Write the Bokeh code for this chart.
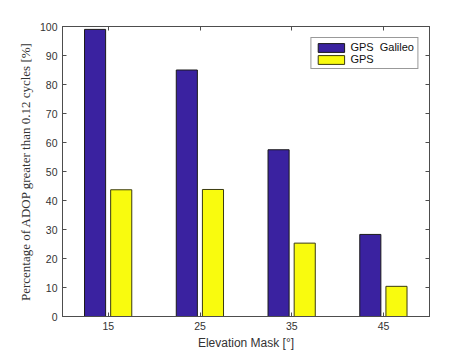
from bokeh.plotting import figure
from bokeh.models import ColumnDataSource, FixedTicker, LinearAxis, Range1d, Legend, LegendItem, CustomJSTickFormatter
from bokeh.transform import dodge
from bokeh.embed import file_html
from bokeh.resources import INLINE

categories = ["15", "25", "35", "45"]
gps_galileo = [99.0, 85.0, 57.5, 28.3]
gps = [43.7, 43.8, 25.3, 10.4]
y_ticks = [0, 10, 20, 30, 40, 50, 60, 70, 80, 90, 100]

xpos = list(range(1, len(categories) + 1))
src = ColumnDataSource(dict(x=xpos, a=gps_galileo, b=gps))

p = figure(frame_width=367, frame_height=290, output_backend="svg", toolbar_location=None,
           x_range=Range1d(0.5, 4.5), y_range=Range1d(0, 100),
           min_border_left=62, min_border_right=36, min_border_top=26, min_border_bottom=31)

blue = "#3a22a0"
yellow = "#f9fb0e"
r1 = p.vbar(x=dodge("x", -0.145, range=p.x_range), top="a", width=0.23, source=src,
            fill_color=blue, line_color="#1a1a1a", line_width=1)
r2 = p.vbar(x=dodge("x", 0.14, range=p.x_range), top="b", width=0.23, source=src,
            fill_color=yellow, line_color="#3a3a10", line_width=1)

p.xgrid.visible = False
p.ygrid.visible = False
p.outline_line_color = "#4d4d4d"
p.background_fill_color = "white"
p.border_fill_color = "white"

p.xaxis.ticker = FixedTicker(ticks=xpos)
p.xaxis.major_label_overrides = {i: c for i, c in zip(xpos, categories)}
p.yaxis.ticker = FixedTicker(ticks=y_ticks)

for ax in [p.xaxis[0], p.yaxis[0]]:
    ax.major_tick_in = 4
    ax.major_tick_out = 0
    ax.minor_tick_line_color = None
    ax.axis_line_color = "#4d4d4d"
    ax.major_tick_line_color = "#4d4d4d"
    ax.major_label_text_font = "Liberation Sans"
    ax.major_label_text_font_size = "10.5px"
    ax.major_label_text_color = "#333333"
    ax.axis_label_text_font_style = "normal"

p.xaxis.axis_label = "Elevation Mask [°]"
p.xaxis.axis_label_text_font = "Liberation Sans"
p.xaxis.axis_label_text_font_size = "12px"
p.xaxis.axis_label_text_color = "#333333"
p.xaxis.axis_label_standoff = 3
p.xaxis.major_label_standoff = 5

p.yaxis.axis_label = "Percentage of ADOP greater than 0.12 cycles [%]"
p.yaxis.axis_label_text_font = "Liberation Serif"
p.yaxis.axis_label_text_font_size = "13px"
p.yaxis.axis_label_text_color = "#333333"
p.yaxis.axis_label_standoff = 4
p.yaxis.major_label_standoff = 5

blank = CustomJSTickFormatter(code="return ''")
top_ax = LinearAxis(ticker=FixedTicker(ticks=xpos), formatter=blank,
                    major_tick_in=4, major_tick_out=0, minor_tick_line_color=None,
                    axis_line_color="#4d4d4d", major_tick_line_color="#4d4d4d",
                    major_label_standoff=0)
right_ax = LinearAxis(ticker=FixedTicker(ticks=y_ticks), formatter=blank,
                      major_tick_in=4, major_tick_out=0, minor_tick_line_color=None,
                      axis_line_color="#4d4d4d", major_tick_line_color="#4d4d4d",
                      major_label_standoff=0)
p.add_layout(top_ax, "above")
p.add_layout(right_ax, "right")

legend = Legend(items=[LegendItem(label="GPS  Galileo", renderers=[r1]),
                       LegendItem(label="GPS", renderers=[r2])],
                location="top_right")
legend.margin = 11
legend.padding = 3
legend.spacing = 0
legend.glyph_width = 33
legend.glyph_height = 11
legend.label_standoff = 3
legend.label_height = 11
legend.label_text_font = "Liberation Sans"
legend.label_text_font_size = "11px"
legend.label_text_color = "#111111"
legend.border_line_color = "#333333"
legend.border_line_width = 1
legend.background_fill_alpha = 1
p.add_layout(legend, "center")

open("out.html", "w").write(file_html(p, INLINE))
